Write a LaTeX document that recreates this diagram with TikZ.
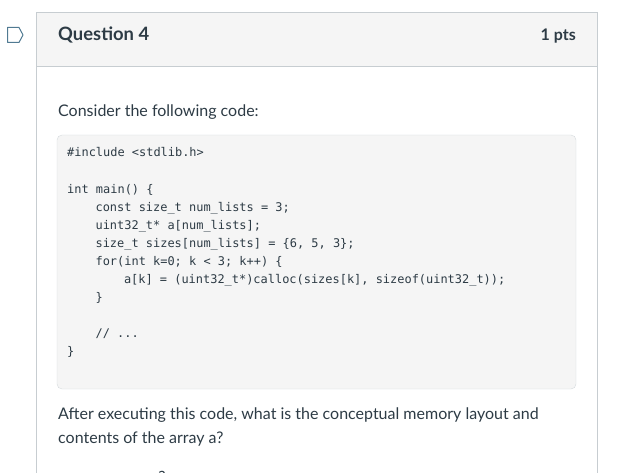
\documentclass[tikz,border=0pt]{standalone}
\usepackage{fontspec}
\setmainfont{Lato}
\setmonofont{DejaVu Sans Mono}
\usetikzlibrary{positioning}

\definecolor{ink}{HTML}{2D3B45}
\definecolor{rim}{HTML}{C7CDD1}
\definecolor{headfill}{HTML}{F5F5F5}
\definecolor{codefill}{HTML}{F5F5F5}
\definecolor{coderim}{HTML}{D5DADD}
\definecolor{flagcol}{RGB}{80,122,146}

\tikzset{
  txt/.style={anchor=base west, inner sep=0pt, text=ink, font=\fontsize{16}{19}\selectfont},
  codeline/.style={anchor=base west, inner sep=0pt, text=ink, font=\fontsize{11.95}{14}\ttfamily},
}

\begin{document}
\begin{tikzpicture}[x=1pt, y=-1pt]
\useasboundingbox (0,0) rectangle (620,473);

% karte und kopf
	\fill[headfill] (36,12) rectangle (597,66);
	\draw[rim] (36,480) -- (36,12) -- (597,12) -- (597,480);
	\draw[rim] (36,66) -- (597,66);
	\draw[flagcol, line width=1pt, line join=round] (7.5,27.5) -- (19,27.5) -- (23,35) -- (19,42.5) -- (7.5,42.5) -- cycle;

	\node[txt, font=\fontsize{18.4}{21}\selectfont\bfseries] (title) at (58,41) {Question 4};
	\node[txt, anchor=base east, font=\fontsize{16}{19}\selectfont\bfseries] (pts) at (576,41) {1 pts};

	\node[txt] (intro) at (58,117) {Consider the following code:};

% codeblock
	\draw[coderim, fill=codefill, rounded corners=5pt] (57,135) rectangle (576,389);
	\foreach \y/\ind/\src [count=\n] in {
		157/0/{\#include <stdlib.h>},
		193/0/{int main() \{},
		211/4/{const size\_t num\_lists = 3;},
		229/4/{uint32\_t* a[num\_lists];},
		247/4/{size\_t sizes[num\_lists] = \{6, 5, 3\};},
		265/4/{for(int k=0; k < 3; k++) \{},
		283/8/{a[k] = (uint32\_t*)calloc(sizes[k], sizeof(uint32\_t));},
		301/4/{\}},
		337/4/{// ...},
		355/0/{\}}}
		\node[codeline] (line\n) at (67+7.1*\ind,\y) {\src};

	\node[txt] (ask1) at (58,419) {After executing this code, what is the conceptual memory layout and};
	\node[txt] (ask2) at (58,443) {contents of the array a?};

	\node[txt] (cut) at (158,479) {a};
\end{tikzpicture}
\end{document}
